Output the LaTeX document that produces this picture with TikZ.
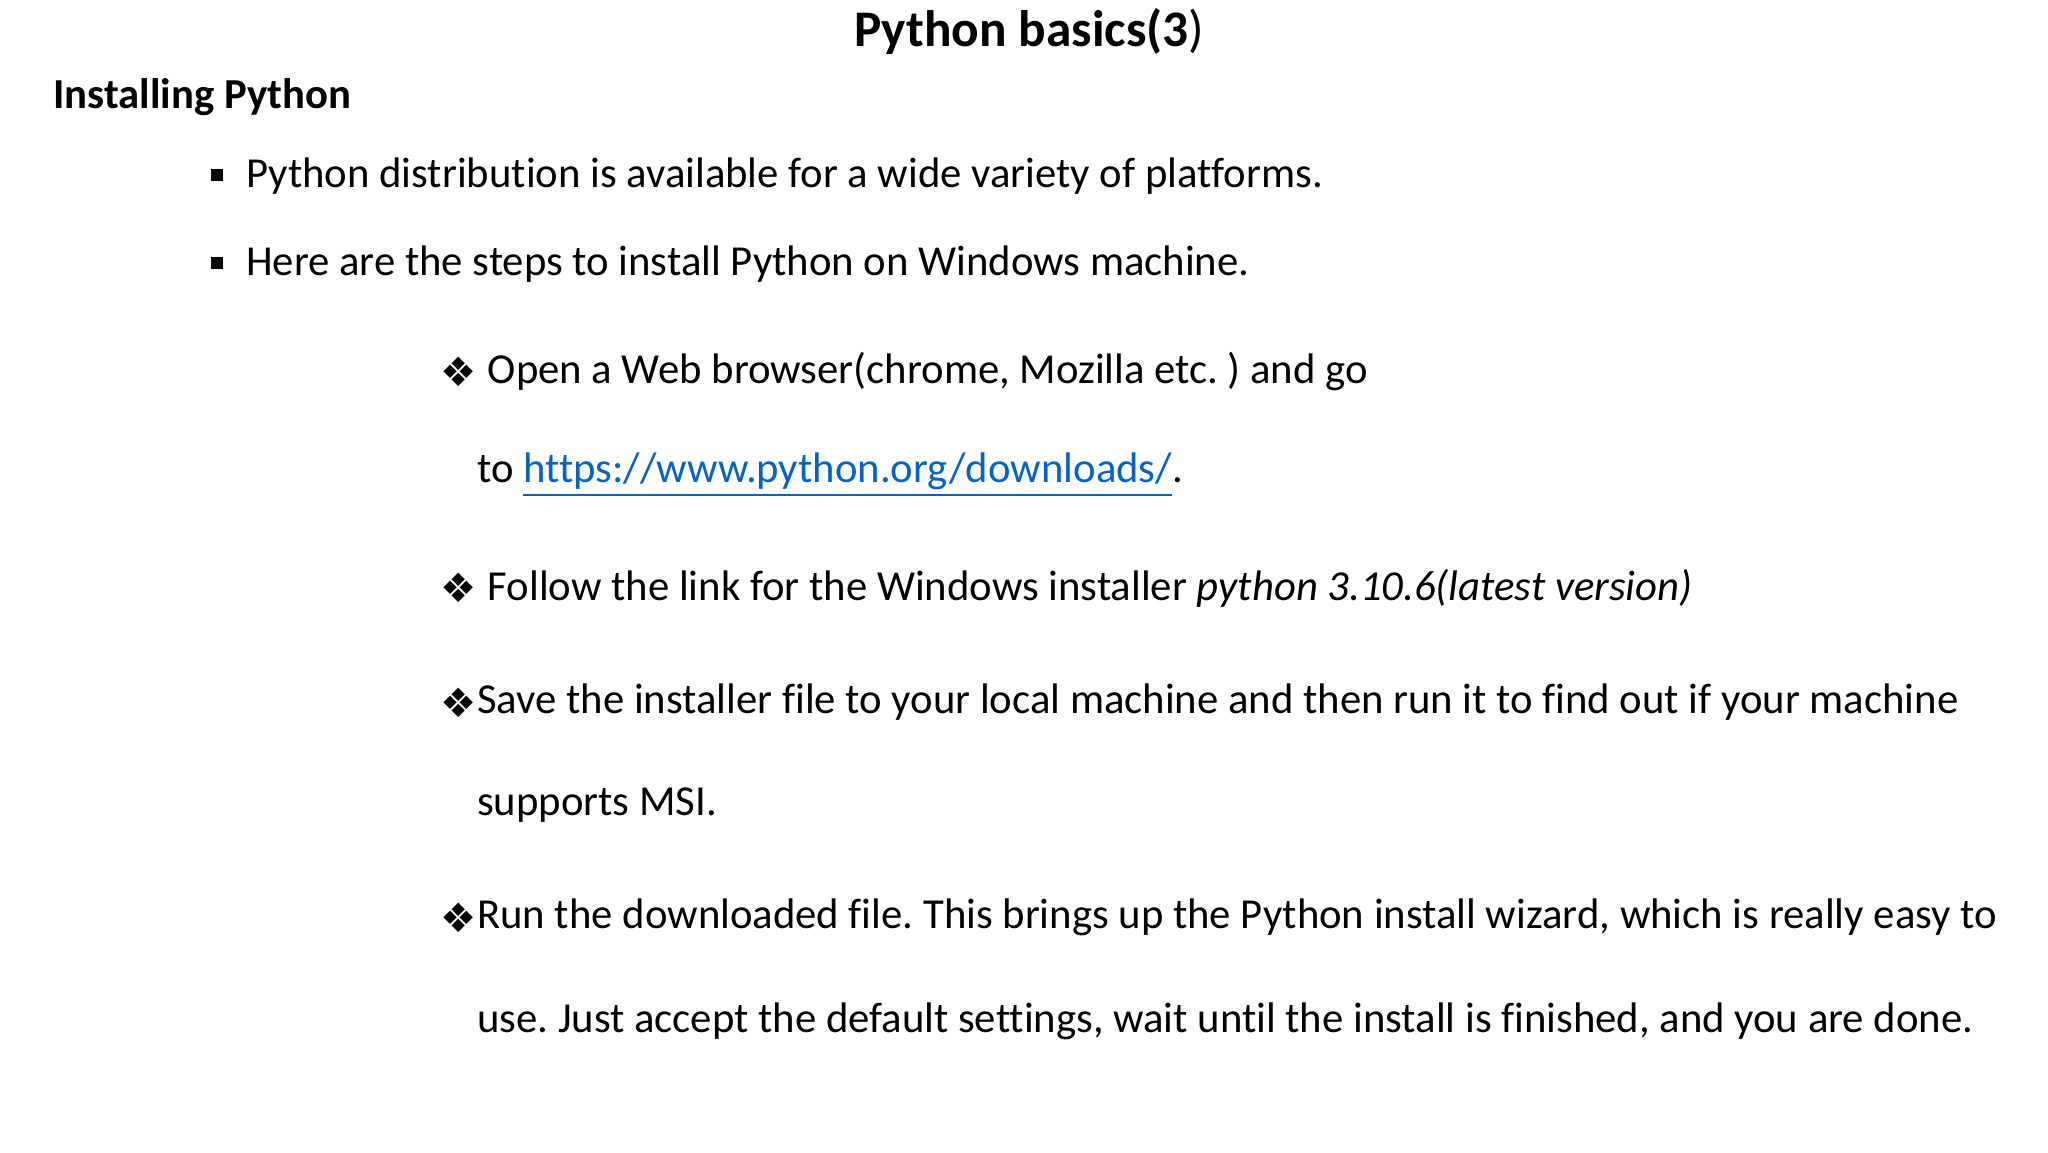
\documentclass[tikz,border=0pt]{standalone}
\usepackage{fontspec}
\setmainfont[Ligatures=NoCommon]{Carlito}
\newfontfamily\symfont{DejaVu Sans}
\definecolor{linkblue}{RGB}{5,99,193}
\frenchspacing
\tikzset{
  body/.style={anchor=west,inner sep=0pt,font=\fontsize{12.15}{14}\selectfont},
  head/.style={anchor=west,inner sep=0pt,font=\fontsize{12.15}{14}\selectfont\bfseries},
  sqbullet/.style={fill=black,minimum size=0.12cm,inner sep=0pt},
  diabullet/.style={anchor=west,inner sep=0pt,font=\fontsize{11.5}{14}\selectfont\symfont},
}
\begin{document}
\begin{tikzpicture}[x=0.013128cm,y=-0.013128cm]
  \useasboundingbox (0,0) rectangle (1560,877.5);
  \node [anchor=center,inner sep=0pt,font=\fontsize{14.6}{17}\selectfont\bfseries] (title) at (784,24) {Python basics(3\textmd{)}};
  \node [head] (inst) at (40,74) {Installing Python};
  % first level
  \node [sqbullet] (s1) at (165,133) {};
  \node [body] (b1) at (187,134) {Python distribution is available for a wide variety of platforms.};
  \node [sqbullet] (s2) at (165,200) {};
  \node [body] (b2) at (187,201) {Here are the steps to install Python on Windows machine.};
  % second level
  \node [diabullet] (d1) at (335,283) {❖};
  \node [body] (t1) at (371,283) {Open a Web browser(chrome, Mozilla etc. ) and go};
  \node [body] (t1b) at (363,362) {to \textcolor{linkblue}{\underline{https://www.python.org/downloads/}}.};
  \node [diabullet] (d2) at (335,448) {❖};
  \node [body] (t2) at (371,448) {Follow the link for the Windows installer \textit{python 3.10.6(latest version)}};
  \node [diabullet] (d3) at (335,535) {❖};
  \node [body] (t3) at (363,535) {Save the installer file to your local machine and then run it to find out if your machine};
  \node [body] (t3b) at (363,613) {supports MSI.};
  \node [diabullet] (d4) at (335,699) {❖};
  \node [body] (t4) at (363,699) {Run the downloaded file. This brings up the Python install wizard, which is really easy to};
  \node [body] (t4b) at (363,778) {use. Just accept the default settings, wait until the install is finished, and you are done.};
\end{tikzpicture}
\end{document}
